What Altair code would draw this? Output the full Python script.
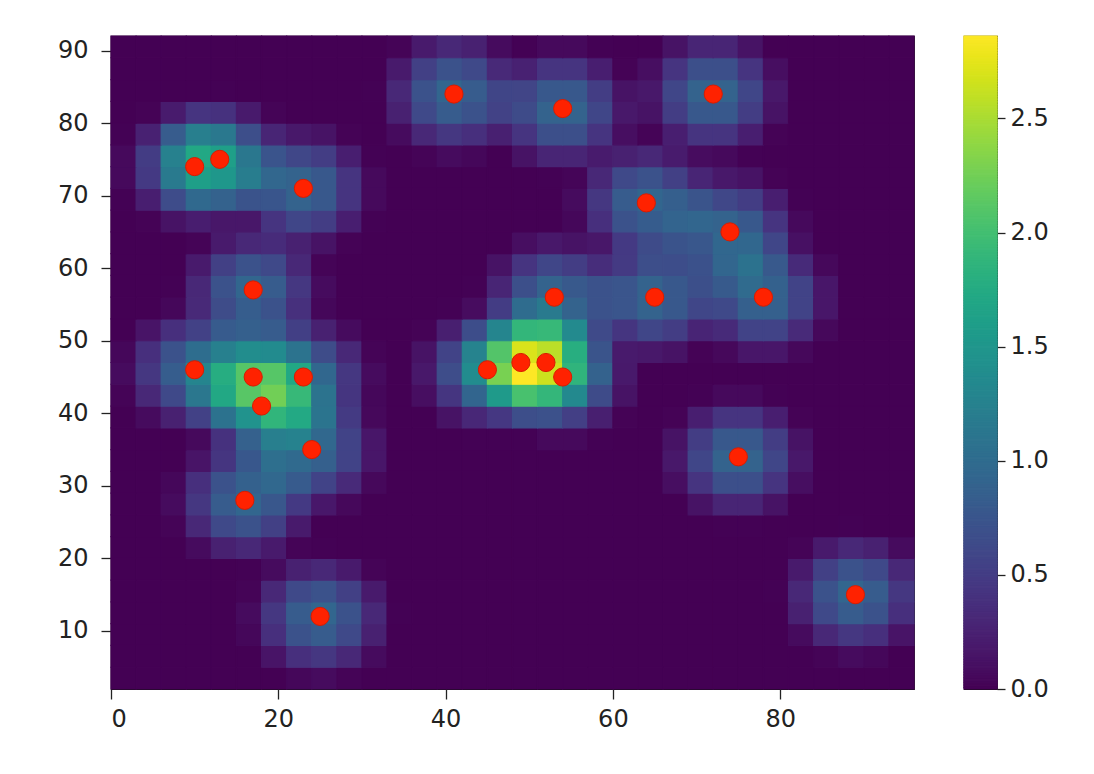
import altair as alt
import numpy as np
import pandas as pd

# Point locations
px = [10, 13, 23, 41, 54, 72, 64, 74, 17, 53, 65, 78, 10, 17, 23, 18, 24, 16, 25, 45, 49, 52, 54, 75, 89]
py = [74, 75, 71, 84, 82, 84, 69, 65, 57, 56, 56, 56, 46, 45, 45, 41, 35, 28, 12, 46, 47, 47, 45, 34, 15]

# Kernel density settings (quartic kernel)
h = 10
grid = 3
x_ticks = [0, 20, 40, 60, 80]
y_ticks = [10, 20, 30, 40, 50, 60, 70, 80, 90]
cb_ticks = [0.0, 0.5, 1.0, 1.5, 2.0, 2.5]

x_grid = np.arange(min(px) - h, max(px) + h, grid)
y_grid = np.arange(min(py) - h, max(py) + h, grid)

xs = np.array(px, dtype=float)
ys = np.array(py, dtype=float)
rows = []
for j in range(len(y_grid) - 1):
    for k in range(len(x_grid) - 1):
        xc = x_grid[k] + grid / 2
        yc = y_grid[j] + grid / 2
        d = np.sqrt((xc - xs) ** 2 + (yc - ys) ** 2)
        dn = d / h
        p = np.where(d <= h, (15 / 16) * (1 - dn ** 2) ** 2, 0.0).sum()
        rows.append({"x0": float(x_grid[k]), "x1": float(x_grid[k + 1]),
                     "y0": float(y_grid[j]), "y1": float(y_grid[j + 1]),
                     "intensity": float(p)})
cells = pd.DataFrame(rows)
cmax = float(cells["intensity"].max())

pts = pd.DataFrame({"x": px, "y": py})

xdom = [float(x_grid[0]), float(x_grid[-1])]
ydom = [float(y_grid[0]), float(y_grid[-1])]

cscale = alt.Scale(scheme="viridis", domain=[0, cmax])

heat = alt.Chart(cells).mark_rect(strokeWidth=1.2).encode(
    x=alt.X("x0:Q", scale=alt.Scale(domain=xdom, nice=False, zero=False),
            axis=alt.Axis(values=x_ticks, title=None, grid=False, domain=False,
                          labelPadding=8)),
    x2="x1:Q",
    y=alt.Y("y0:Q", scale=alt.Scale(domain=ydom, nice=False, zero=False),
            axis=alt.Axis(values=y_ticks, title=None, grid=False, domain=False,
                          labelPadding=13, minExtent=54, maxExtent=54)),
    y2="y1:Q",
    color=alt.Color("intensity:Q", scale=cscale, legend=None),
    stroke=alt.Stroke("intensity:Q", scale=cscale, legend=None),
)

dots = alt.Chart(pts).mark_circle(size=330, opacity=1, color="#ff2200",
                                  stroke="#d81c00", strokeWidth=1).encode(
    x="x:Q", y="y:Q")

main = alt.layer(heat, dots).properties(width=803, height=653)

step = cmax / 400
cbar = alt.Chart(alt.sequence(0, cmax, step, as_="v")).transform_calculate(
    v2=f"min(datum.v + {step}, {cmax})"
).mark_rect(strokeWidth=1.2).encode(
    x=alt.value(0), x2=alt.value(33),
    y=alt.Y("v:Q", scale=alt.Scale(domain=[0, cmax], nice=False, zero=False),
            axis=alt.Axis(orient="right", values=cb_ticks, format=".1f", title=None,
                          grid=False, domain=False, labelPadding=5, tickSize=8)),
    y2="v2:Q",
    color=alt.Color("v:Q", scale=cscale, legend=None),
    stroke=alt.Stroke("v:Q", scale=cscale, legend=None),
).properties(width=33, height=653)

chart = alt.hconcat(main, cbar, spacing=46).properties(
    padding={"left": 48, "top": 26, "right": 5, "bottom": 5}
).configure_view(stroke="#111", strokeWidth=1.2).configure_axis(
    labelFont="DejaVu Sans", labelFontSize=24, labelColor="#222",
    tickColor="#222", tickSize=10, tickWidth=1.3
)

chart.save("out.html", embed_options={"renderer": "svg", "actions": False})
